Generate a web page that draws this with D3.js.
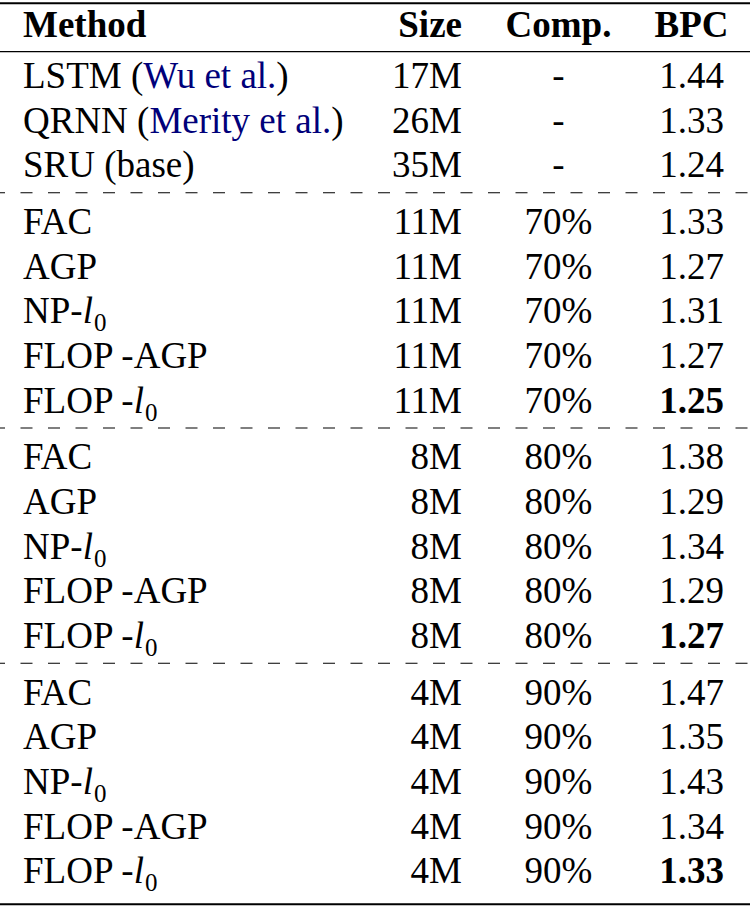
<!DOCTYPE html>
<html><head><meta charset="utf-8">
<script src="https://cdn.jsdelivr.net/npm/d3@7"></script>
<style>
html,body{margin:0;padding:0;background:#fff;}
</style></head>
<body>
<svg id="c" width="755" height="909"></svg>
<script>
// ---- data ----
const headers = ["Method", "Size", "Comp.", "BPC"];
// method name parts: [text, style] style: n=normal, c=citation, l=italic l with subscript 0
const methods = [
  [["LSTM (", "n"], ["Wu et al.", "c"], [")", "n"]],
  [["QRNN (", "n"], ["Merity et al.", "c"], [")", "n"]],
  [["SRU (base)", "n"]],
  [["FAC", "n"]], [["AGP", "n"]], [["NP-", "n"], ["l", "l"]], [["FLOP -AGP", "n"]], [["FLOP -", "n"], ["l", "l"]],
  [["FAC", "n"]], [["AGP", "n"]], [["NP-", "n"], ["l", "l"]], [["FLOP -AGP", "n"]], [["FLOP -", "n"], ["l", "l"]],
  [["FAC", "n"]], [["AGP", "n"]], [["NP-", "n"], ["l", "l"]], [["FLOP -AGP", "n"]], [["FLOP -", "n"], ["l", "l"]]
];
const sizes = ["17M","26M","35M","11M","11M","11M","11M","11M","8M","8M","8M","8M","8M","4M","4M","4M","4M","4M"];
const comps = ["-","-","-","70%","70%","70%","70%","70%","80%","80%","80%","80%","80%","90%","90%","90%","90%","90%"];
const bpcs  = ["1.44","1.33","1.24","1.33","1.27","1.31","1.27","1.25","1.38","1.29","1.34","1.29","1.27","1.47","1.35","1.43","1.34","1.33"];
const bestFlags = [0,0,0,0,0,0,0,1,0,0,0,0,1,0,0,0,0,1];
const groupOf = [0,0,0,1,1,1,1,1,2,2,2,2,2,3,3,3,3,3];

// ---- layout ----
const FONT = "'Liberation Serif', 'Times New Roman', Tinos, 'Nimbus Roman', 'DejaVu Serif', serif";
const svg = d3.select("#c").attr("font-family", FONT);
const FS = 37;
const dashExtra = 0.276; // extra row-fraction after each dashed rule
const y = d3.scaleLinear().domain([0, 1]).range([88, 132.6]);
const slot = i => i + groupOf[i] * dashExtra;
const col = {method: 23, size: 462, comp: 558.5, bpc: 691.5};
const x0 = 0, x1 = 750;

// rules
function rule(yy, w){
  svg.append("line").attr("x1", x0).attr("x2", x1).attr("y1", yy).attr("y2", yy)
    .attr("stroke", "#000").attr("stroke-width", w);
}
rule(3.3, 2);
rule(51.7, 1.3);
rule(y(slot(17)) + 21, 2);
// dashed rules between groups
[3, 8, 13].forEach(i => {
  const yy = y(slot(i - 1)) + 15.5;
  svg.append("line").attr("x1", x0).attr("x2", x1)
    .attr("y1", yy).attr("y2", yy)
    .attr("stroke", "#000").attr("stroke-width", 1.1)
    .attr("stroke-dasharray", "12,15.5").attr("stroke-dashoffset", 7);
});

function txt(sel){ return sel.append("text").attr("font-family", FONT).attr("font-size", FS).attr("fill", "#000"); }

// header
const hy = 36.7;
const hAnch = [["start", col.method], ["end", col.size], ["middle", col.comp], ["middle", col.bpc]];
headers.forEach((h, k) => {
  txt(svg).attr("x", hAnch[k][1]).attr("y", hy).attr("text-anchor", hAnch[k][0])
    .attr("font-weight", "bold").text(h);
});

// rows
const rows = svg.selectAll("g.row").data(d3.range(methods.length)).join("g").attr("class", "row");
rows.each(function(i){
  const g = d3.select(this);
  const yy = y(slot(i));
  const t = txt(g).attr("x", col.method).attr("y", yy);
  methods[i].forEach(([s, st]) => {
    if (st === "l") {
      t.append("tspan").attr("font-style", "italic").text(s);
      t.append("tspan").attr("font-size", 25).attr("dx", 1).attr("dy", 8).text("0");
    } else {
      const ts = t.append("tspan").text(s);
      if (st === "c") ts.attr("fill", "#00007a");
    }
  });
  txt(g).attr("x", col.size).attr("y", yy).attr("text-anchor", "end").text(sizes[i]);
  txt(g).attr("x", col.comp).attr("y", yy).attr("text-anchor", "middle").text(comps[i]);
  txt(g).attr("x", col.bpc).attr("y", yy).attr("text-anchor", "middle")
    .attr("font-weight", bestFlags[i] ? "bold" : "normal").text(bpcs[i]);
});
</script>
</body></html>
